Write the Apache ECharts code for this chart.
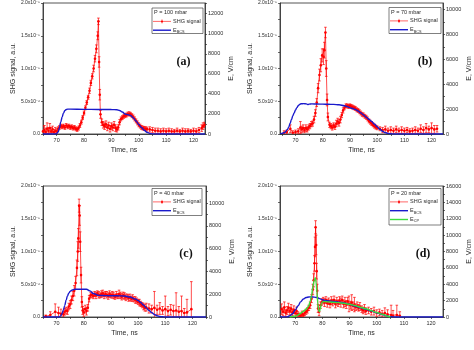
<!DOCTYPE html>
<html><head><meta charset="utf-8">
<script src="https://cdn.jsdelivr.net/npm/echarts@6/dist/echarts.min.js"></script>
<style>html,body{margin:0;padding:0;background:#fff}#c{width:474px;height:350px}</style>
</head><body><div id="c"></div><script>
// ---------------- data ----------------
const timeLabels = [70, 80, 90, 100, 110, 120];
const timeMinorTicks = [65, 70, 75, 80, 85, 90, 95, 100, 105, 110, 115, 120, 125];
// SHG axis in units of 1e-6 a.u.
const shgTickValues = [0, 5, 10, 15, 20];
const shgTickLabels = ['0.0', '5.0x10⁻⁶', '1.0x10⁻⁵', '1.5x10⁻⁵', '2.0x10⁻⁵'];
const shgMinorTicks = [0, 2.5, 5, 7.5, 10, 12.5, 15, 17.5, 20];
const eTicksA = [0, 2000, 4000, 6000, 8000, 10000, 12000];
const eTicksB = [0, 2000, 4000, 6000, 8000, 10000];
const eTicksC = [0, 2000, 4000, 6000, 8000, 10000];
const eTicksD = [0, 2000, 4000, 6000, 8000, 10000, 12000, 14000, 16000];
const eMax = [13070, 10540, 11500, 16000];
const pressures = ['P = 100 mbar', 'P = 70 mbar', 'P = 40 mbar', 'P = 20 mbar'];
const panelLabels = ['(a)', '(b)', '(c)', '(d)'];
const seriesNames = ['SHG signal', 'E', 'BCS', 'CP'];
const axisTitles = ['Time, ns', 'SHG signal, a.u.', 'E, V/cm'];

// SHG signal: [time ns, value (1e-6 a.u.), error]
const shgA = [[65,0.4,0.8],[65.5,0.6,0.7],[66,0.3,0.6],[66.5,0.8,0.9],[67,0.5,0.5],[67.5,0.9,0.7],[68,0.4,0.6],[68.5,0.7,0.5],[69,0.3,0.4],[69.5,0.5,0.5],
[70,0.4,0.4],[70.5,0.8,0.3],[71,1.0,0.3],[71.5,1.2,0.3],[72,1.1,0.3],[72.5,1.2,0.3],[73,1.0,0.3],[73.5,1.3,0.3],[74,1.1,0.3],[74.5,1.2,0.3],
[75,1.0,0.3],[75.5,1.1,0.3],[76,0.9,0.3],[76.5,1.0,0.3],[77,0.8,0.3],[77.5,0.7,0.3],[78,0.9,0.3],[78.5,1.3,0.3],[79,1.8,0.3],[79.5,2.5,0.3],
[80,3.2,0.3],[80.5,4.0,0.3],[81,4.8,0.3],[81.5,5.6,0.3],[82,6.6,0.4],[82.5,7.8,0.4],[83,8.8,0.4],[83.5,10.0,0.5],[84,11.5,0.5],[84.5,13.0,0.6],
[85,15.0,0.6],[85.25,17.2,0.5],[85.5,11.0,0.8],[85.75,6.0,0.8],[86,3.0,0.6],[86.5,1.8,0.5],[87,1.4,0.5],[87.5,1.2,0.5],[88,1.5,0.5],[88.5,1.0,0.5],
[89,1.3,0.5],[89.5,0.8,0.5],[90,1.2,0.5],[90.5,1.0,0.5],[91,1.4,0.5],[91.5,0.9,0.5],[92,0.7,0.4],[92.5,1.0,0.4],[93,1.8,0.4],[93.5,2.3,0.3],
[94,2.5,0.3],[94.5,2.7,0.3],[95,2.8,0.3],[95.5,2.9,0.3],[96,3.05,0.3],[96.5,3.1,0.3],[97,3.0,0.3],[97.5,2.8,0.3],[98,2.6,0.3],[98.5,2.3,0.3],
[99,2.0,0.3],[99.5,1.7,0.3],[100,1.4,0.3],[100.5,1.2,0.3],[101,1.0,0.3],[101.5,0.9,0.3],[102,0.85,0.3],[102.5,0.8,0.3],[103,0.75,0.3],[104,0.7,0.4],
[105,0.6,0.4],[106,0.5,0.4],[107,0.5,0.4],[108,0.4,0.4],[109,0.5,0.4],[110,0.4,0.4],[111,0.5,0.4],[112,0.4,0.4],[113,0.4,0.3],[114,0.5,0.4],
[115,0.4,0.3],[116,0.5,0.4],[117,0.4,0.4],[118,0.5,0.3],[119,0.4,0.3],[120,0.5,0.4],[121,0.4,0.4],[122,0.6,0.4],[123,0.9,0.5],[123.5,1.2,0.5],[124,1.4,0.4]];

const shgB = [[65.8,0.2,0.3],[66.8,0.3,0.3],[68.1,0.8,0.6],[69,0.2,0.3],[70,0.3,0.3],[71,0.4,0.4],[71.8,1.0,0.9],[72.3,0.7,0.5],[72.8,0.9,0.5],[73.3,0.6,0.4],
[73.8,0.9,0.5],[74.3,0.7,0.4],[74.8,1.0,0.4],[75.3,1.2,0.4],[75.8,1.5,0.4],[76.3,1.6,0.4],[76.8,2.2,0.5],[77.3,3.2,0.5],[77.8,4.8,0.6],[78.3,7.0,0.7],
[78.8,9.0,0.9],[79.3,10.5,1.0],[79.8,12.0,1.0],[80.3,11.8,1.2],[80.6,12.8,1.2],[81.0,15.5,0.8],[81.3,10.0,1.2],[81.6,5.2,0.9],[81.9,2.6,0.6],[82.5,1.4,0.4],
[83,1.2,0.4],[83.5,1.0,0.4],[84,1.3,0.4],[84.5,1.1,0.4],[85,1.6,0.5],[85.5,1.9,0.5],[86,1.7,0.5],[86.5,2.2,0.5],[87,2.9,0.4],[87.5,3.6,0.4],
[88,4.0,0.3],[88.5,4.3,0.3],[89,4.3,0.3],[89.5,4.2,0.3],[90,4.3,0.3],[90.5,4.2,0.3],[91,4.1,0.3],[91.5,4.0,0.3],[92,3.9,0.3],[92.5,3.7,0.3],
[93,3.6,0.3],[93.5,3.4,0.3],[94,3.2,0.3],[94.5,3.0,0.3],[95,2.9,0.3],[95.5,2.7,0.3],[96,2.55,0.3],[96.5,2.3,0.3],[97,2.0,0.3],[97.5,1.8,0.3],
[98,1.6,0.3],[98.5,1.4,0.3],[99,1.2,0.3],[99.5,1.05,0.3],[100,0.95,0.3],[101,0.8,0.3],[102,0.6,0.4],[103,0.7,0.5],[104,0.5,0.4],[105,0.6,0.5],
[106,0.5,0.4],[107,0.7,0.5],[108,0.5,0.4],[109,0.6,0.5],[110,0.5,0.4],[111,0.6,0.4],[112,0.4,0.4],[113,0.5,0.4],[114,0.6,0.5],[115,0.5,0.4],
[116,0.8,0.6],[117,0.6,0.5],[118,0.9,0.7],[119,0.7,0.5],[120,0.9,0.8],[121,0.7,0.6],[122,0.8,0.5]];

const shgC = [[66,0.1,0.2],[67.7,0.3,0.5],[69.5,0.8,1.2],[70.7,0.6,0.9],[71.6,0.5,0.7],[72.5,0.4,0.4],[73,0.8,0.5],[73.5,1.0,0.5],[74,0.9,0.5],[74.5,1.6,0.5],
[75,1.9,0.6],[75.5,2.6,0.6],[76,3.2,0.7],[76.5,4.0,0.8],[77,5.2,1.0],[77.5,7.5,1.2],[77.8,10.0,1.5],[78.0,12.0,1.5],[78.3,17.0,1.0],[78.5,15.5,1.5],
[78.7,11.5,1.5],[79.0,6.4,1.2],[79.3,2.3,0.8],[79.6,1.0,0.6],[80,0.7,0.6],[80.5,1.2,0.6],[81,0.9,0.6],[81.5,1.4,0.5],[82,2.8,0.5],[82.5,3.3,0.4],
[83,3.4,0.4],[83.5,3.2,0.4],[84,3.5,0.4],[84.5,3.3,0.5],[85,3.6,0.4],[85.5,3.4,0.5],[86,3.3,0.4],[86.5,3.5,0.5],[87,3.6,0.5],[87.5,3.3,0.5],
[88,3.5,0.4],[88.5,3.4,0.5],[89,3.2,0.5],[89.5,3.5,0.5],[90,3.3,0.4],[90.5,3.4,0.5],[91,3.3,0.5],[91.5,3.1,0.4],[92,3.4,0.5],[92.5,3.2,0.4],
[93,3.5,0.6],[93.5,3.3,0.5],[94,3.1,0.5],[94.5,3.3,0.5],[95,3.2,0.5],[95.5,3.0,0.5],[96,3.1,0.4],[96.5,2.9,0.5],[97,3.0,0.5],[97.5,2.8,0.4],
[98,2.9,0.5],[98.5,2.7,0.4],[99,2.6,0.5],[99.5,2.5,0.4],[100,2.3,0.4],[100.5,2.2,0.5],[101,2.0,0.4],[101.5,1.8,0.4],[102,1.6,0.5],[102.5,1.4,0.5],
[103,1.5,0.6],[104,1.3,0.7],[105,1.2,0.6],[106,1.4,2.5],[107,1.1,0.7],[108,1.3,0.9],[109,1.0,0.6],[110,1.2,2.0],[111,0.9,0.7],[112,1.1,0.8],
[113,0.9,0.9],[114,1.0,2.7],[115,0.8,0.8],[116,0.9,2.3],[117,0.6,0.7],[118,0.7,2.0],[119.6,1.2,4.2]];

const shgD = [[65,1.2,0.8],[65.5,0.8,0.6],[66,1.5,0.8],[66.5,0.6,0.5],[67,1.0,0.6],[67.5,1.4,0.7],[68,0.9,0.6],[68.5,1.3,0.6],[69,0.7,0.5],[69.5,1.1,0.6],
[70,0.6,0.5],[70.5,0.9,0.6],[71,0.4,0.4],[71.5,0.3,0.3],[72,0.2,0.3],[72.5,0.5,0.4],[73,0.3,0.3],[73.5,0.6,0.4],[74,0.8,0.4],[74.5,1.0,0.4],
[75,1.4,0.4],[75.5,1.8,0.5],[76,2.8,0.6],[76.5,4.2,0.8],[76.8,5.6,1.0],[77.1,8.2,1.2],[77.3,10.7,1.5],[77.5,13.7,1.0],[77.7,11.0,1.5],[77.9,7.0,1.2],
[78.1,4.0,1.0],[78.4,1.3,0.6],[78.8,0.8,0.6],[79.3,1.8,0.5],[79.8,2.3,0.5],[80.3,2.5,0.5],[80.8,2.2,0.6],[81.3,2.6,0.5],[81.8,2.1,0.6],[82.3,2.4,0.5],
[82.8,2.0,0.6],[83.3,2.5,0.6],[83.8,2.2,0.5],[84.3,2.6,0.6],[84.8,2.0,0.6],[85.3,2.4,0.6],[85.8,2.1,0.5],[86.3,2.5,0.6],[86.8,2.2,0.7],[87.3,2.6,0.6],
[87.8,2.0,0.6],[88.3,2.3,0.7],[88.8,1.9,0.6],[89.3,2.4,0.6],[89.8,2.0,1.2],[90.3,1.8,0.6],[90.8,2.2,1.2],[91.3,1.7,0.6],[91.8,1.9,1.1],[92.3,1.5,0.5],
[92.8,1.7,0.6],[93.3,1.4,0.5],[93.8,1.6,0.6],[94.5,1.2,0.5],[95,1.0,0.5],[95.5,1.3,0.6],[96,0.9,0.5],[97,1.0,0.5],[98,0.8,0.5],[99,0.9,0.6],
[100,0.6,0.5],[101,0.7,0.5],[102,0.5,0.5],[103,0.6,0.8],[104,0.4,0.7],[105.3,0.3,1.5],[106,0.2,0.8],[107.4,0.3,1.5],[108.5,0.2,0.6]];

// E_BCS (V/cm): [time ns, field]
const bcsA = [[65,0],[69.5,0],[70,50],[70.5,200],[71,600],[71.5,1200],[72,1700],[72.5,2100],[73,2350],[73.5,2450],[74,2480],[75,2480],[80,2460],[85,2450],
[90,2440],[92,2420],[93,2350],[94,2200],[95,2000],[96,1930],[97,1850],[98,1600],[99,1300],[100,950],[101,650],[102,380],[103,180],[104,60],[105,15],[106,0],[124.2,0]];
const bcsB = [[64.4,30],[65,50],[66,120],[67,350],[67.5,550],[68,850],[68.5,1150],[69,1450],[69.5,1700],[70,1930],[70.5,2120],[71,2280],[71.5,2380],[72,2430],
[73,2440],[74,2420],[74.5,2370],[75,2400],[76,2420],[78,2410],[80,2400],[82,2390],[84,2380],[86,2350],[88,2270],[89,2200],[90,2120],[91,2050],[92,1970],
[93,1850],[94,1700],[95,1530],[96,1350],[97,1180],[98,1000],[99,800],[100,580],[101,380],[102,220],[103,110],[104,50],[105,20],[106,0],[124.2,0]];
const bcsC = [[65,0],[71,0],[71.5,100],[72,300],[72.5,590],[73,1000],[73.5,1470],[74,1850],[74.5,2100],[75,2250],[75.6,2350],[76.8,2440],[79,2440],[81,2430],
[82.3,2290],[83.5,2060],[85.4,1900],[88,1880],[92,1860],[95,1850],[97,1750],[99,1580],[100,1450],[101,1270],[102,1050],[103,820],[104,580],[105,380],
[106,220],[107,110],[108,50],[109,20],[110,0],[125,0]];
const bcsD = [[64.4,0],[67,20],[68,150],[69,400],[70,850],[71,1350],[72,1850],[73,2200],[74,2380],[75,2450],[76,2460],[77,2430],[78,2380],[79,2250],
[80,2100],[81,2020],[82,1980],[84,1900],[86,1820],[88,1720],[90,1550],[92,1350],[94,1150],[96,950],[98,750],[100,520],[102,300],[104,120],[105,50],
[106,10],[108,0],[124.4,0]];
// E_CP (V/cm), panel d
const cpD = [[68,0],[70,100],[71,250],[72,450],[73,700],[74,950],[74.5,1150],[75,1400],[75.5,1900],[76,2600],[76.5,3700],[77,4500],[77.4,4800],[77.7,4200],
[78,3000],[78.3,1700],[78.6,900],[78.9,650],[79.2,900],[79.6,1600],[80,1850],[81,1900],[82,1850],[84,1800],[86,1750],[88,1680],[90,1550],[92,1400],
[94,1200],[96,1000],[98,780],[100,550],[102,330],[104,100],[105,0]];

// ---------------- layout / style ----------------
const FONT = '"Liberation Sans", Arial, sans-serif';
const AX = '#2a2a2a';
const RED = '#ff0000', BLUE = '#1a1acc', GREEN = '#3ddc3d';
const grids = [
  {left: 43, top: 3, width: 162, height: 131},
  {left: 280, top: 3, width: 164, height: 131},
  {left: 43, top: 186, width: 163, height: 131},
  {left: 280, top: 186, width: 164, height: 131}
];
const xRanges = [[65, 124.2], [64.3, 124.2], [65, 125], [64.4, 124.4]];
const eTicks = [eTicksA, eTicksB, eTicksC, eTicksD];
const shgData = [shgA, shgB, shgC, shgD];
const bcsData = [bcsA, bcsB, bcsC, bcsD];
const legendBoxes = [
  {x: 152, y: 8, w: 51, h: 25.5, rows: 3},
  {x: 389, y: 7.5, w: 52, h: 26, rows: 3},
  {x: 152, y: 188.5, w: 50, h: 27, rows: 3},
  {x: 389, y: 188.5, w: 52, h: 36.5, rows: 4}
];
const labelPos = [[183.5, 62], [425, 62], [186, 254], [423, 254]];

const chart = echarts.init(document.getElementById('c'), null, {renderer: 'canvas', width: 474, height: 350});

function errRender(params, api) {
  const t = api.value(0), v = api.value(1), e = api.value(2);
  const lo = api.coord([t, v - e]), hi = api.coord([t, v + e]);
  const w = 1.3;
  const st = {stroke: RED, lineWidth: 0.7};
  return {type: 'group', children: [
    {type: 'line', shape: {x1: lo[0], y1: lo[1], x2: hi[0], y2: hi[1]}, style: st},
    {type: 'line', shape: {x1: hi[0] - w, y1: hi[1], x2: hi[0] + w, y2: hi[1]}, style: st},
    {type: 'line', shape: {x1: lo[0] - w, y1: lo[1], x2: lo[0] + w, y2: lo[1]}, style: st}
  ]};
}

const xAxes = [], yAxes = [], series = [], graphics = [];
const tickLbl = {fontFamily: FONT, fontSize: 5.5, color: AX};
grids.forEach((g, i) => {
  const [x0, x1] = xRanges[i];
  xAxes.push({
    type: 'value', gridIndex: i, min: x0, max: x1,
    name: axisTitles[0], nameLocation: 'middle', nameGap: 13,
    nameTextStyle: {fontFamily: FONT, fontSize: 7, color: AX},
    axisLine: {show: true, onZero: false, lineStyle: {color: AX, width: 0.8}},
    axisTick: {show: true, length: 2, customValues: timeMinorTicks.filter(v => v >= x0 && v <= x1), lineStyle: {color: AX, width: 0.7}},
    axisLabel: Object.assign({customValues: timeLabels, margin: 3, formatter: v => String(v)}, tickLbl),
    splitLine: {show: false}
  });
  yAxes.push({
    type: 'value', gridIndex: i, position: 'left', min: 0, max: 20,
    name: axisTitles[1], nameLocation: 'middle', nameGap: 25,
    nameTextStyle: {fontFamily: FONT, fontSize: 7, color: AX},
    axisLine: {show: true, onZero: false, lineStyle: {color: AX, width: 0.8}},
    axisTick: {show: true, length: 2, customValues: shgMinorTicks, lineStyle: {color: AX, width: 0.7}},
    axisLabel: Object.assign({customValues: shgTickValues, margin: 3,
      formatter: v => shgTickLabels[shgTickValues.indexOf(v)] || ''}, tickLbl, {fontSize: 5}),
    splitLine: {show: false}
  });
  const eMinor = [];
  for (const v of eTicks[i]) { eMinor.push(v); if (v + 1000 <= eMax[i]) eMinor.push(v + 1000); }
  yAxes.push({
    type: 'value', gridIndex: i, position: 'right', min: 0, max: eMax[i],
    name: axisTitles[2], nameLocation: 'middle', nameGap: 23,
    nameTextStyle: {fontFamily: FONT, fontSize: 7, color: AX},
    axisLine: {show: true, onZero: false, lineStyle: {color: AX, width: 0.8}},
    axisTick: {show: true, length: 2, customValues: eMinor, lineStyle: {color: AX, width: 0.7}},
    axisLabel: Object.assign({customValues: eTicks[i], margin: 3, formatter: v => String(v)}, tickLbl),
    splitLine: {show: false}
  });
  series.push({
    type: 'custom', xAxisIndex: i, yAxisIndex: 2 * i, renderItem: errRender, clip: true, z: 2,
    data: shgData[i], silent: true
  });
  series.push({
    type: 'line', name: seriesNames[0], xAxisIndex: i, yAxisIndex: 2 * i, data: shgData[i].map(d => [d[0], d[1]]),
    symbol: 'circle', symbolSize: 2.6, showSymbol: true, itemStyle: {color: RED},
    lineStyle: {color: RED, width: 0.7}, z: 3, clip: true
  });
  series.push({
    type: 'line', name: seriesNames[1] + seriesNames[2], xAxisIndex: i, yAxisIndex: 2 * i + 1, data: bcsData[i],
    showSymbol: false, smooth: 0.4, smoothMonotone: 'x', lineStyle: {color: BLUE, width: 1.4}, z: 4, clip: true
  });
  if (i === 3) {
    series.push({
      type: 'line', name: seriesNames[1] + seriesNames[3], xAxisIndex: i, yAxisIndex: 7, data: cpD,
      showSymbol: false, smooth: 0.3, smoothMonotone: 'x', lineStyle: {color: GREEN, width: 1.4}, z: 5, clip: true
    });
  }
  // legend box
  const b = legendBoxes[i];
  const ry = k => b.y + 4.6 + k * 8.8;
  const txt = (s, x, y, size) => ({type: 'text', x: x, y: y, z: 101,
    style: {text: s, fontFamily: FONT, fontSize: size || 5.5, fill: AX, align: 'left', verticalAlign: 'middle'}});
  graphics.push({type: 'rect', z: 100, shape: {x: b.x, y: b.y, width: b.w, height: b.h},
    style: {fill: '#fff', stroke: AX, lineWidth: 0.6}});
  graphics.push(txt(pressures[i], b.x + 2, ry(0)));
  graphics.push({type: 'line', z: 101, shape: {x1: b.x + 1, y1: ry(1), x2: b.x + 19, y2: ry(1)}, style: {stroke: RED, lineWidth: 0.6}});
  graphics.push({type: 'line', z: 101, shape: {x1: b.x + 10, y1: ry(1) - 2, x2: b.x + 10, y2: ry(1) + 2}, style: {stroke: RED, lineWidth: 0.6}});
  graphics.push({type: 'circle', z: 101, shape: {cx: b.x + 10, cy: ry(1), r: 1}, style: {fill: RED}});
  graphics.push(txt(seriesNames[0], b.x + 21, ry(1)));
  graphics.push({type: 'line', z: 101, shape: {x1: b.x + 1, y1: ry(2), x2: b.x + 19, y2: ry(2)}, style: {stroke: BLUE, lineWidth: 1.4}});
  graphics.push(txt(seriesNames[1], b.x + 21, ry(2)));
  graphics.push(txt(seriesNames[2], b.x + 24.8, ry(2) + 1.8, 3.8));
  if (b.rows === 4) {
    graphics.push({type: 'line', z: 101, shape: {x1: b.x + 1, y1: ry(3), x2: b.x + 19, y2: ry(3)}, style: {stroke: GREEN, lineWidth: 1.4}});
    graphics.push(txt(seriesNames[1], b.x + 21, ry(3)));
    graphics.push(txt(seriesNames[3], b.x + 24.8, ry(3) + 1.8, 3.8));
  }
  graphics.push({type: 'text', z: 101, x: labelPos[i][0], y: labelPos[i][1],
    style: {text: panelLabels[i], fontFamily: '"Liberation Serif", "Times New Roman", serif', fontWeight: 'bold',
      fontSize: 12, fill: '#111', align: 'center', verticalAlign: 'middle'}});
});

chart.setOption({
  animation: false,
  backgroundColor: '#ffffff',
  grid: grids.map(g => Object.assign({show: true, borderColor: AX, borderWidth: 0.8, backgroundColor: 'transparent'}, g)),
  xAxis: xAxes,
  yAxis: yAxes,
  series: series,
  graphic: graphics
});
</script></body></html>
